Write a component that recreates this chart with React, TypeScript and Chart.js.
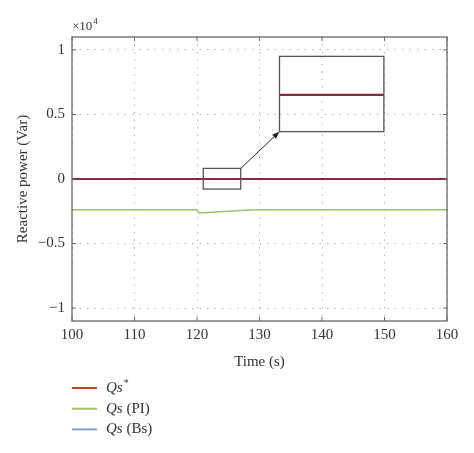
import React, { useEffect, useRef } from 'react';
import { Chart, registerables } from 'chart.js';
Chart.register(...registerables);

// ---- data ----
const timeQsRef = [100, 160];
const valuesQsRef = [0, 0];
const timeQsBs = [100, 160];
const valuesQsBs = [0, 0];
const timeQsPI = [100, 120, 120.3, 121, 123, 125, 127, 128.5, 129.5, 160];
const valuesQsPI = [-2380, -2380, -2640, -2620, -2560, -2500, -2445, -2400, -2380, -2380];
const xTicks = [100, 110, 120, 130, 140, 150, 160];
const yTicks = [-10000, -5000, 0, 5000, 10000];
const yScaleFactor = 10000;
const seriesNames = ['Qs*', 'Qs (PI)', 'Qs (Bs)'];
const zoomSource = { x0: 121, x1: 127, y0: -780, y1: 820 };
const zoomTarget = { x0: 133.2, x1: 149.9, y0: 3670, y1: 9500 };

const FONT = "'Liberation Serif', 'DejaVu Serif', serif";
const TEXT = '#333333';
const lineColors = { ref: '#8a2a43', pi: '#9cc06a', bs: '#7fa3c8' };
const legendColors = ['#c4402a', '#9cc06a', '#7fa3c8'];

const toXY = (xs: number[], ys: number[]) => xs.map((x, i) => ({ x, y: ys[i] }));

const decorPlugin = {
  id: 'decor',
  afterDatasetsDraw(chart: any) {
    const { ctx, chartArea: a, scales } = chart;
    const xs = scales.x, ys = scales.y;
    ctx.save();
    // zoom inset
    const sx0 = xs.getPixelForValue(zoomSource.x0), sx1 = xs.getPixelForValue(zoomSource.x1);
    const sy0 = ys.getPixelForValue(zoomSource.y1), sy1 = ys.getPixelForValue(zoomSource.y0);
    const tx0 = xs.getPixelForValue(zoomTarget.x0), tx1 = xs.getPixelForValue(zoomTarget.x1);
    const ty0 = ys.getPixelForValue(zoomTarget.y1), ty1 = ys.getPixelForValue(zoomTarget.y0);
    ctx.strokeStyle = '#555';
    ctx.lineWidth = 1.3;
    ctx.strokeRect(sx0, sy0, sx1 - sx0, sy1 - sy0);
    ctx.fillStyle = '#fff';
    ctx.fillRect(tx0, ty0, tx1 - tx0, ty1 - ty0);
    // zoomed Qs* inside inset
    const mapY = (v: number) =>
      zoomTarget.y0 + ((v - zoomSource.y0) / (zoomSource.y1 - zoomSource.y0)) * (zoomTarget.y1 - zoomTarget.y0);
    const mapX = (v: number) =>
      zoomTarget.x0 + ((v - zoomSource.x0) / (zoomSource.x1 - zoomSource.x0)) * (zoomTarget.x1 - zoomTarget.x0);
    ctx.save();
    ctx.beginPath();
    ctx.rect(tx0, ty0, tx1 - tx0, ty1 - ty0);
    ctx.clip();
    // grid lines inside inset (dotted)
    ctx.strokeStyle = '#b0b0b0';
    ctx.lineWidth = 1;
    ctx.setLineDash([1.5, 6]);
    xTicks.forEach((t) => {
      const px = xs.getPixelForValue(t);
      if (px > tx0 && px < tx1) { ctx.beginPath(); ctx.moveTo(px, ty0); ctx.lineTo(px, ty1); ctx.stroke(); }
    });
    yTicks.forEach((t) => {
      const py = ys.getPixelForValue(t);
      if (py > ty0 && py < ty1) { ctx.beginPath(); ctx.moveTo(tx0, py); ctx.lineTo(tx1, py); ctx.stroke(); }
    });
    ctx.setLineDash([]);
    const drawZoomed = (xsArr: number[], vals: number[], color: string, w: number) => {
      ctx.strokeStyle = color; ctx.lineWidth = w;
      ctx.beginPath();
      const lo = Math.min(...xsArr), hi = Math.max(...xsArr);
      const pts: number[] = [lo, ...xsArr.filter((v) => v > lo && v < hi), hi];
      xsArr.forEach((xv, i) => {
        const px = xs.getPixelForValue(mapX(xv));
        const py = ys.getPixelForValue(mapY(vals[i]));
        if (i === 0) ctx.moveTo(px, py); else ctx.lineTo(px, py);
      });
      ctx.stroke();
      return pts;
    };
    drawZoomed(timeQsBs, valuesQsBs, lineColors.bs, 2);
    drawZoomed(timeQsRef, valuesQsRef, lineColors.ref, 2.2);
    ctx.restore();
    ctx.strokeStyle = '#555';
    ctx.lineWidth = 1.3;
    ctx.strokeRect(tx0, ty0, tx1 - tx0, ty1 - ty0);
    // arrow
    const ax0 = sx1, ay0 = sy0, ax1 = tx0, ay1 = ty1;
    ctx.strokeStyle = '#222'; ctx.fillStyle = '#222'; ctx.lineWidth = 1;
    const ang = Math.atan2(ay1 - ay0, ax1 - ax0);
    const hl = 8;
    ctx.beginPath(); ctx.moveTo(ax0, ay0); ctx.lineTo(ax1 - Math.cos(ang) * 4, ay1 - Math.sin(ang) * 4); ctx.stroke();
    ctx.beginPath();
    ctx.moveTo(ax1, ay1);
    ctx.lineTo(ax1 - hl * Math.cos(ang - 0.35), ay1 - hl * Math.sin(ang - 0.35));
    ctx.lineTo(ax1 - hl * Math.cos(ang + 0.35), ay1 - hl * Math.sin(ang + 0.35));
    ctx.closePath(); ctx.fill();

    // frame
    ctx.strokeStyle = '#666';
    ctx.lineWidth = 1.3;
    ctx.strokeRect(a.left, a.top, a.right - a.left, a.bottom - a.top);
    // inward ticks
    ctx.lineWidth = 1;
    const tl = 4;
    xTicks.forEach((t) => {
      const px = xs.getPixelForValue(t);
      ctx.beginPath(); ctx.moveTo(px, a.bottom); ctx.lineTo(px, a.bottom - tl);
      ctx.moveTo(px, a.top); ctx.lineTo(px, a.top + tl); ctx.stroke();
    });
    yTicks.forEach((t) => {
      const py = ys.getPixelForValue(t);
      ctx.beginPath(); ctx.moveTo(a.left, py); ctx.lineTo(a.left + tl, py);
      ctx.moveTo(a.right, py); ctx.lineTo(a.right - tl, py); ctx.stroke();
    });

    // exponent label
    ctx.fillStyle = TEXT;
    ctx.textBaseline = 'alphabetic';
    ctx.textAlign = 'left';
    ctx.font = `13px ${FONT}`;
    const base = '\u00d710';
    ctx.fillText(base, a.left, a.top - 7);
    const bw = ctx.measureText(base).width;
    ctx.font = `9px ${FONT}`;
    ctx.fillText(String(Math.log10(yScaleFactor)), a.left + bw + 1, a.top - 13);

    // legend
    const ly0 = 388, lgap = 20.7;
    seriesNames.forEach((name, i) => {
      const y = ly0 + i * lgap;
      ctx.strokeStyle = legendColors[i];
      ctx.lineWidth = 2;
      ctx.beginPath(); ctx.moveTo(a.left, y); ctx.lineTo(a.left + 25, y); ctx.stroke();
      ctx.fillStyle = TEXT;
      ctx.textBaseline = 'middle';
      let x = a.left + 34;
      const m = name.match(/^(Qs)(\*?)(.*)$/) || [name, name, '', ''];
      ctx.font = `italic 15px ${FONT}`;
      ctx.fillText(m[1], x, y);
      x += ctx.measureText(m[1]).width;
      if (m[2]) {
        ctx.font = `10px ${FONT}`;
        ctx.fillText(m[2], x + 1, y - 5);
        x += ctx.measureText(m[2]).width + 1;
      }
      if (m[3]) {
        ctx.font = `15px ${FONT}`;
        ctx.fillText(m[3], x, y);
      }
    });
    ctx.restore();
  },
};

export default function App() {
  const ref = useRef<HTMLCanvasElement>(null);
  useEffect(() => {
    document.body.style.margin = '0';
    const chart = new Chart(ref.current as HTMLCanvasElement, {
      type: 'line',
      data: {
        datasets: [
          { label: seriesNames[2], data: toXY(timeQsBs, valuesQsBs), borderColor: lineColors.bs, borderWidth: 2, pointRadius: 0, order: 3 },
          { label: seriesNames[1], data: toXY(timeQsPI, valuesQsPI), borderColor: lineColors.pi, borderWidth: 1.5, pointRadius: 0, order: 2 },
          { label: seriesNames[0], data: toXY(timeQsRef, valuesQsRef), borderColor: lineColors.ref, borderWidth: 2.2, pointRadius: 0, order: 1 },
        ],
      },
      options: {
        animation: false,
        responsive: false,
        layout: { padding: { left: 0, right: 27, top: 37, bottom: 82 } },
        plugins: { legend: { display: false }, tooltip: { enabled: false } },
        scales: {
          x: {
            type: 'linear', min: 100, max: 160,
            afterBuildTicks: (s: any) => { s.ticks = xTicks.map((v) => ({ value: v })); },
            afterFit: (s: any) => { s.height = 50; },
            grid: { color: '#b5b5b5', lineWidth: 1, drawTicks: false, borderDash: [1.5, 6] } as any,
            border: { display: false, dash: [1.5, 6] },
            ticks: { font: { family: FONT, size: 15 }, color: TEXT, padding: 5, maxRotation: 0 },
            title: { display: true, text: 'Time (s)', font: { family: FONT, size: 15 }, color: TEXT, padding: { top: 2, bottom: 0 } },
          },
          y: {
            type: 'linear', min: -11000, max: 11000,
            afterBuildTicks: (s: any) => { s.ticks = yTicks.map((v) => ({ value: v })); },
            afterFit: (s: any) => { s.width = 72; },
            grid: { color: '#b5b5b5', lineWidth: 1, drawTicks: false, borderDash: [1.5, 6] } as any,
            border: { display: false, dash: [1.5, 6] },
            ticks: {
              font: { family: FONT, size: 15 }, color: TEXT, padding: 7,
              callback: (v: any) => {
                const n = Number(v) / yScaleFactor;
                return n < 0 ? '\u2212' + String(-n) : String(n);
              },
            },
            title: { display: true, text: 'Reactive power (Var)', font: { family: FONT, size: 15 }, color: TEXT, padding: { top: 14, bottom: 0 } },
          },
        },
      },
      plugins: [decorPlugin],
    } as any);
    return () => chart.destroy();
  }, []);
  return (
    <div style={{ width: 474, height: 453, background: '#fff' }}>
      <canvas ref={ref} width={474} height={453} style={{ display: 'block' }} />
    </div>
  );
}
